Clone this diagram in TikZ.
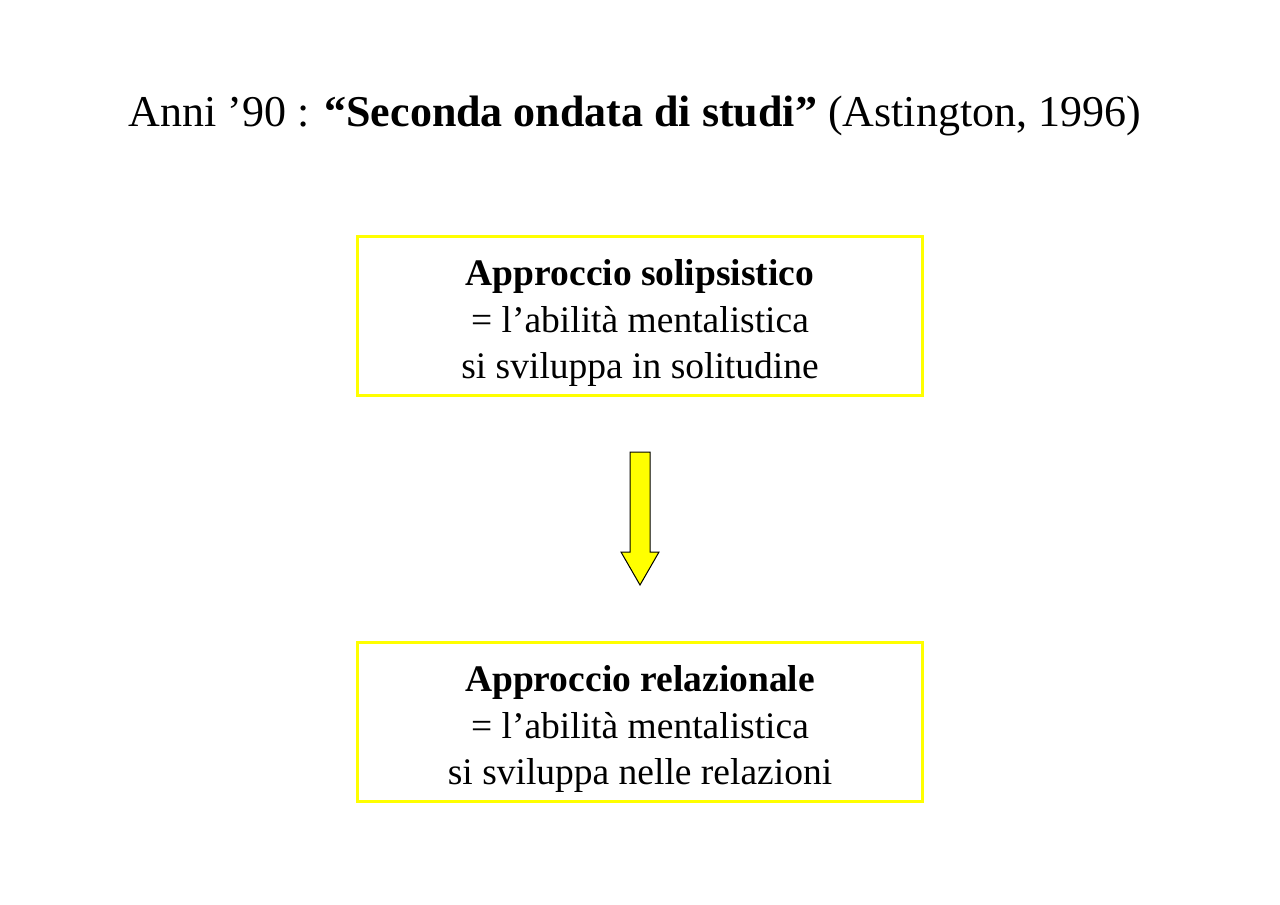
\documentclass[tikz,border=0pt]{standalone}
\usepackage{fontspec}
\setmainfont{Liberation Serif}
\definecolor{boxyellow}{RGB}{255,255,0}
\begin{document}
\begin{tikzpicture}[x=1pt,y=-1pt,
  yellowbox/.style={draw=boxyellow,line width=3pt,inner sep=0pt,minimum width=565pt,minimum height=159pt},
  boxtext/.style={align=center,inner sep=0pt,font=\fontsize{37.5}{46.5}\selectfont},
  titletext/.style={font=\fontsize{44}{50}\selectfont,inner sep=0pt}]
\useasboundingbox (0,0) rectangle (1280,905);
\node[titletext] (title) at (635,116) {Anni ’90 : \textbf{“Seconda ondata di studi”} (Astington, 1996)};
\node[yellowbox] (box1) at (639.5,315.5) {};
\node[boxtext] (text1) at (640,323) {\textbf{Approccio solipsistico}\\= l’abilità mentalistica\\si sviluppa in solitudine};
\node[yellowbox] (box2) at (639.5,721.5) {};
\node[boxtext] (text2) at (640,729) {\textbf{Approccio relazionale}\\= l’abilità mentalistica\\si sviluppa nelle relazioni};
\draw[fill=boxyellow,line width=1pt] (630,452) -- (650,452) -- (650,552) -- (659,552) -- (640,585) -- (621,552) -- (630,552) -- cycle;
\end{tikzpicture}
\end{document}
